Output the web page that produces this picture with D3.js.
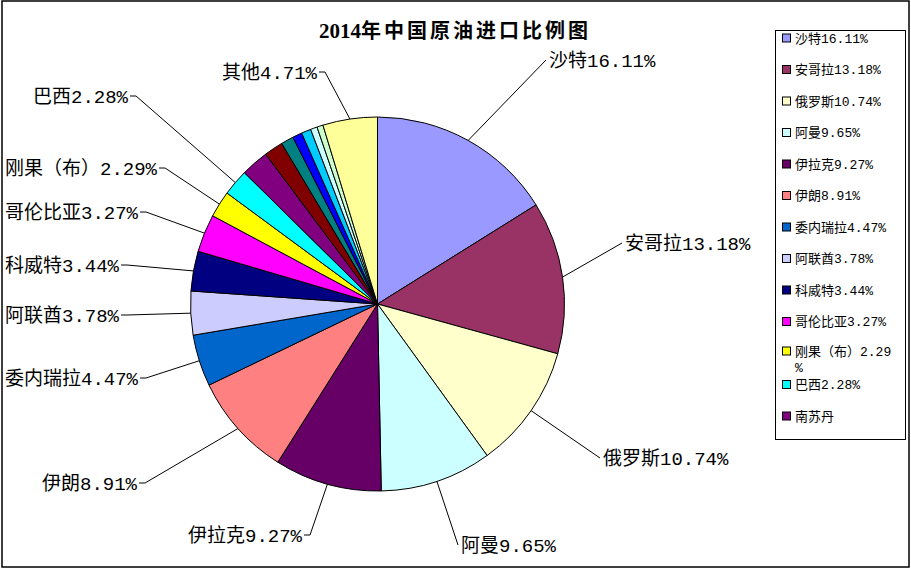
<!DOCTYPE html>
<html><head><meta charset="utf-8">
<script src="https://cdn.jsdelivr.net/npm/d3@7/dist/d3.min.js"></script>
<style>
html,body{margin:0;padding:0;background:#fff;}
svg{display:block;}
</style>
</head><body>
<svg id="chart" width="911" height="569"></svg>
<script>
// ---- data ----
const title = "2014年中国原油进口比例图";
const categories = ["沙特16.11%","安哥拉13.18%","俄罗斯10.74%","阿曼9.65%","伊拉克9.27%","伊朗8.91%",
  "委内瑞拉4.47%","阿联酋3.78%","科威特3.44%","哥伦比亚3.27%","刚果（布）2.29%","巴西2.28%","南苏丹",
  "","","","","","","其他4.71%"];
const values = [16.11,13.18,10.74,9.65,9.27,8.91,4.47,3.78,3.44,3.27,2.29,2.28,2.40,1.65,1.08,0.83,0.83,0.58,0.53,4.71];
const colors = ["#9999FF","#993366","#FFFFCC","#CCFFFF","#660066","#FF8080","#0066CC","#CCCCFF","#000080","#FF00FF",
  "#FFFF00","#00FFFF","#800080","#800000","#008080","#0000FF","#00CCFF","#CCFFFF","#CCFFCC","#FFFF99"];
const legendCount = 13;
// label placement (layout): index -> [text left x, text middle y]
const labelPlace = {0:[549,60],1:[625,243],2:[603,458],3:[461,545],4:[188,535],5:[42,483],6:[5,378],
  7:[5,315],8:[5,265],9:[5,212],10:[5,168],11:[33,96],19:[222,72]};

// ---- drawing ----
const svg = d3.select("#chart");
const cx = 377.5, cy = 304, R = 187;
const labelFont = "'Liberation Mono','Noto Sans CJK SC',monospace";

svg.append("rect").attr("x",2).attr("y",1).attr("width",907).attr("height",566)
  .attr("fill","#fff").attr("stroke","#000").attr("stroke-width",1.5);

// title
const t = svg.append("text").attr("x",455).attr("y",38).attr("text-anchor","middle")
  .attr("font-weight","bold").attr("font-size",21).attr("fill","#000");
t.append("tspan").attr("font-family","'Liberation Serif',serif").text(title.slice(0,4));
t.append("tspan").attr("font-family","'Noto Sans CJK SC',sans-serif").attr("letter-spacing",3).attr("font-size",20).text(title.slice(4));

const pie = d3.pie().sort(null).value(d=>d)(values);
const arc = d3.arc().innerRadius(0).outerRadius(R);
const g = svg.append("g").attr("transform",`translate(${cx},${cy})`);
g.selectAll("path").data(pie).join("path")
  .attr("d",arc).attr("fill",(d,i)=>colors[i]).attr("stroke","#000").attr("stroke-width",1);

// labels + leader lines
const lg = svg.append("g");
pie.forEach((d,i)=>{
  const p = labelPlace[i];
  if(!p || !categories[i]) return;
  const txt = lg.append("text").attr("x",p[0]).attr("y",p[1]).attr("dy","0.36em")
    .attr("font-family",labelFont).attr("font-size",19).attr("fill","#000").text(categories[i]);
  const w = txt.node().getComputedTextLength();
  const mid = (d.startAngle+d.endAngle)/2;
  const rx = cx + R*Math.sin(mid), ry = cy - R*Math.cos(mid);
  let pts;
  if (p[0] > rx - 5) {
    pts = [[p[0]-3,p[1]],[rx,ry]];
  } else {
    const ex = p[0]+w+2;
    pts = [[ex,p[1]],[ex+6,p[1]],[rx,ry]];
  }
  lg.append("path").attr("d",d3.line()(pts)).attr("fill","none").attr("stroke","#000").attr("stroke-width",1);
});

// legend
const LX = 775.5, LY = 30.5, LW = 130, LH = 409;
svg.append("rect").attr("x",LX).attr("y",LY).attr("width",LW).attr("height",LH)
  .attr("fill","#fff").attr("stroke","#000").attr("stroke-width",1);
const step = 31.5;
const maxW = 100;
for(let i=0;i<legendCount;i++){
  let y = 38 + i*step;
  const tx = svg.append("text").attr("x",795).attr("y",y).attr("dy","0.36em")
    .attr("font-family",labelFont).attr("font-size",13).attr("fill","#000").text(categories[i]);
  if (tx.node().getComputedTextLength() > maxW) {
    const s = categories[i];
    let k = s.length;
    while (k>1) { tx.text(s.slice(0,k)); if (tx.node().getComputedTextLength() <= maxW) break; k--; }
    y -= 2;
    tx.attr("y",y).text(s.slice(0,k));
    svg.append("text").attr("x",795).attr("y",y+16).attr("dy","0.36em")
      .attr("font-family",labelFont).attr("font-size",13).attr("fill","#000").text(s.slice(k));
  }
  svg.append("rect").attr("x",782.5).attr("y",y-4).attr("width",8).attr("height",8)
    .attr("fill",colors[i]).attr("stroke","#000").attr("stroke-width",1);
}
</script>
</body></html>
